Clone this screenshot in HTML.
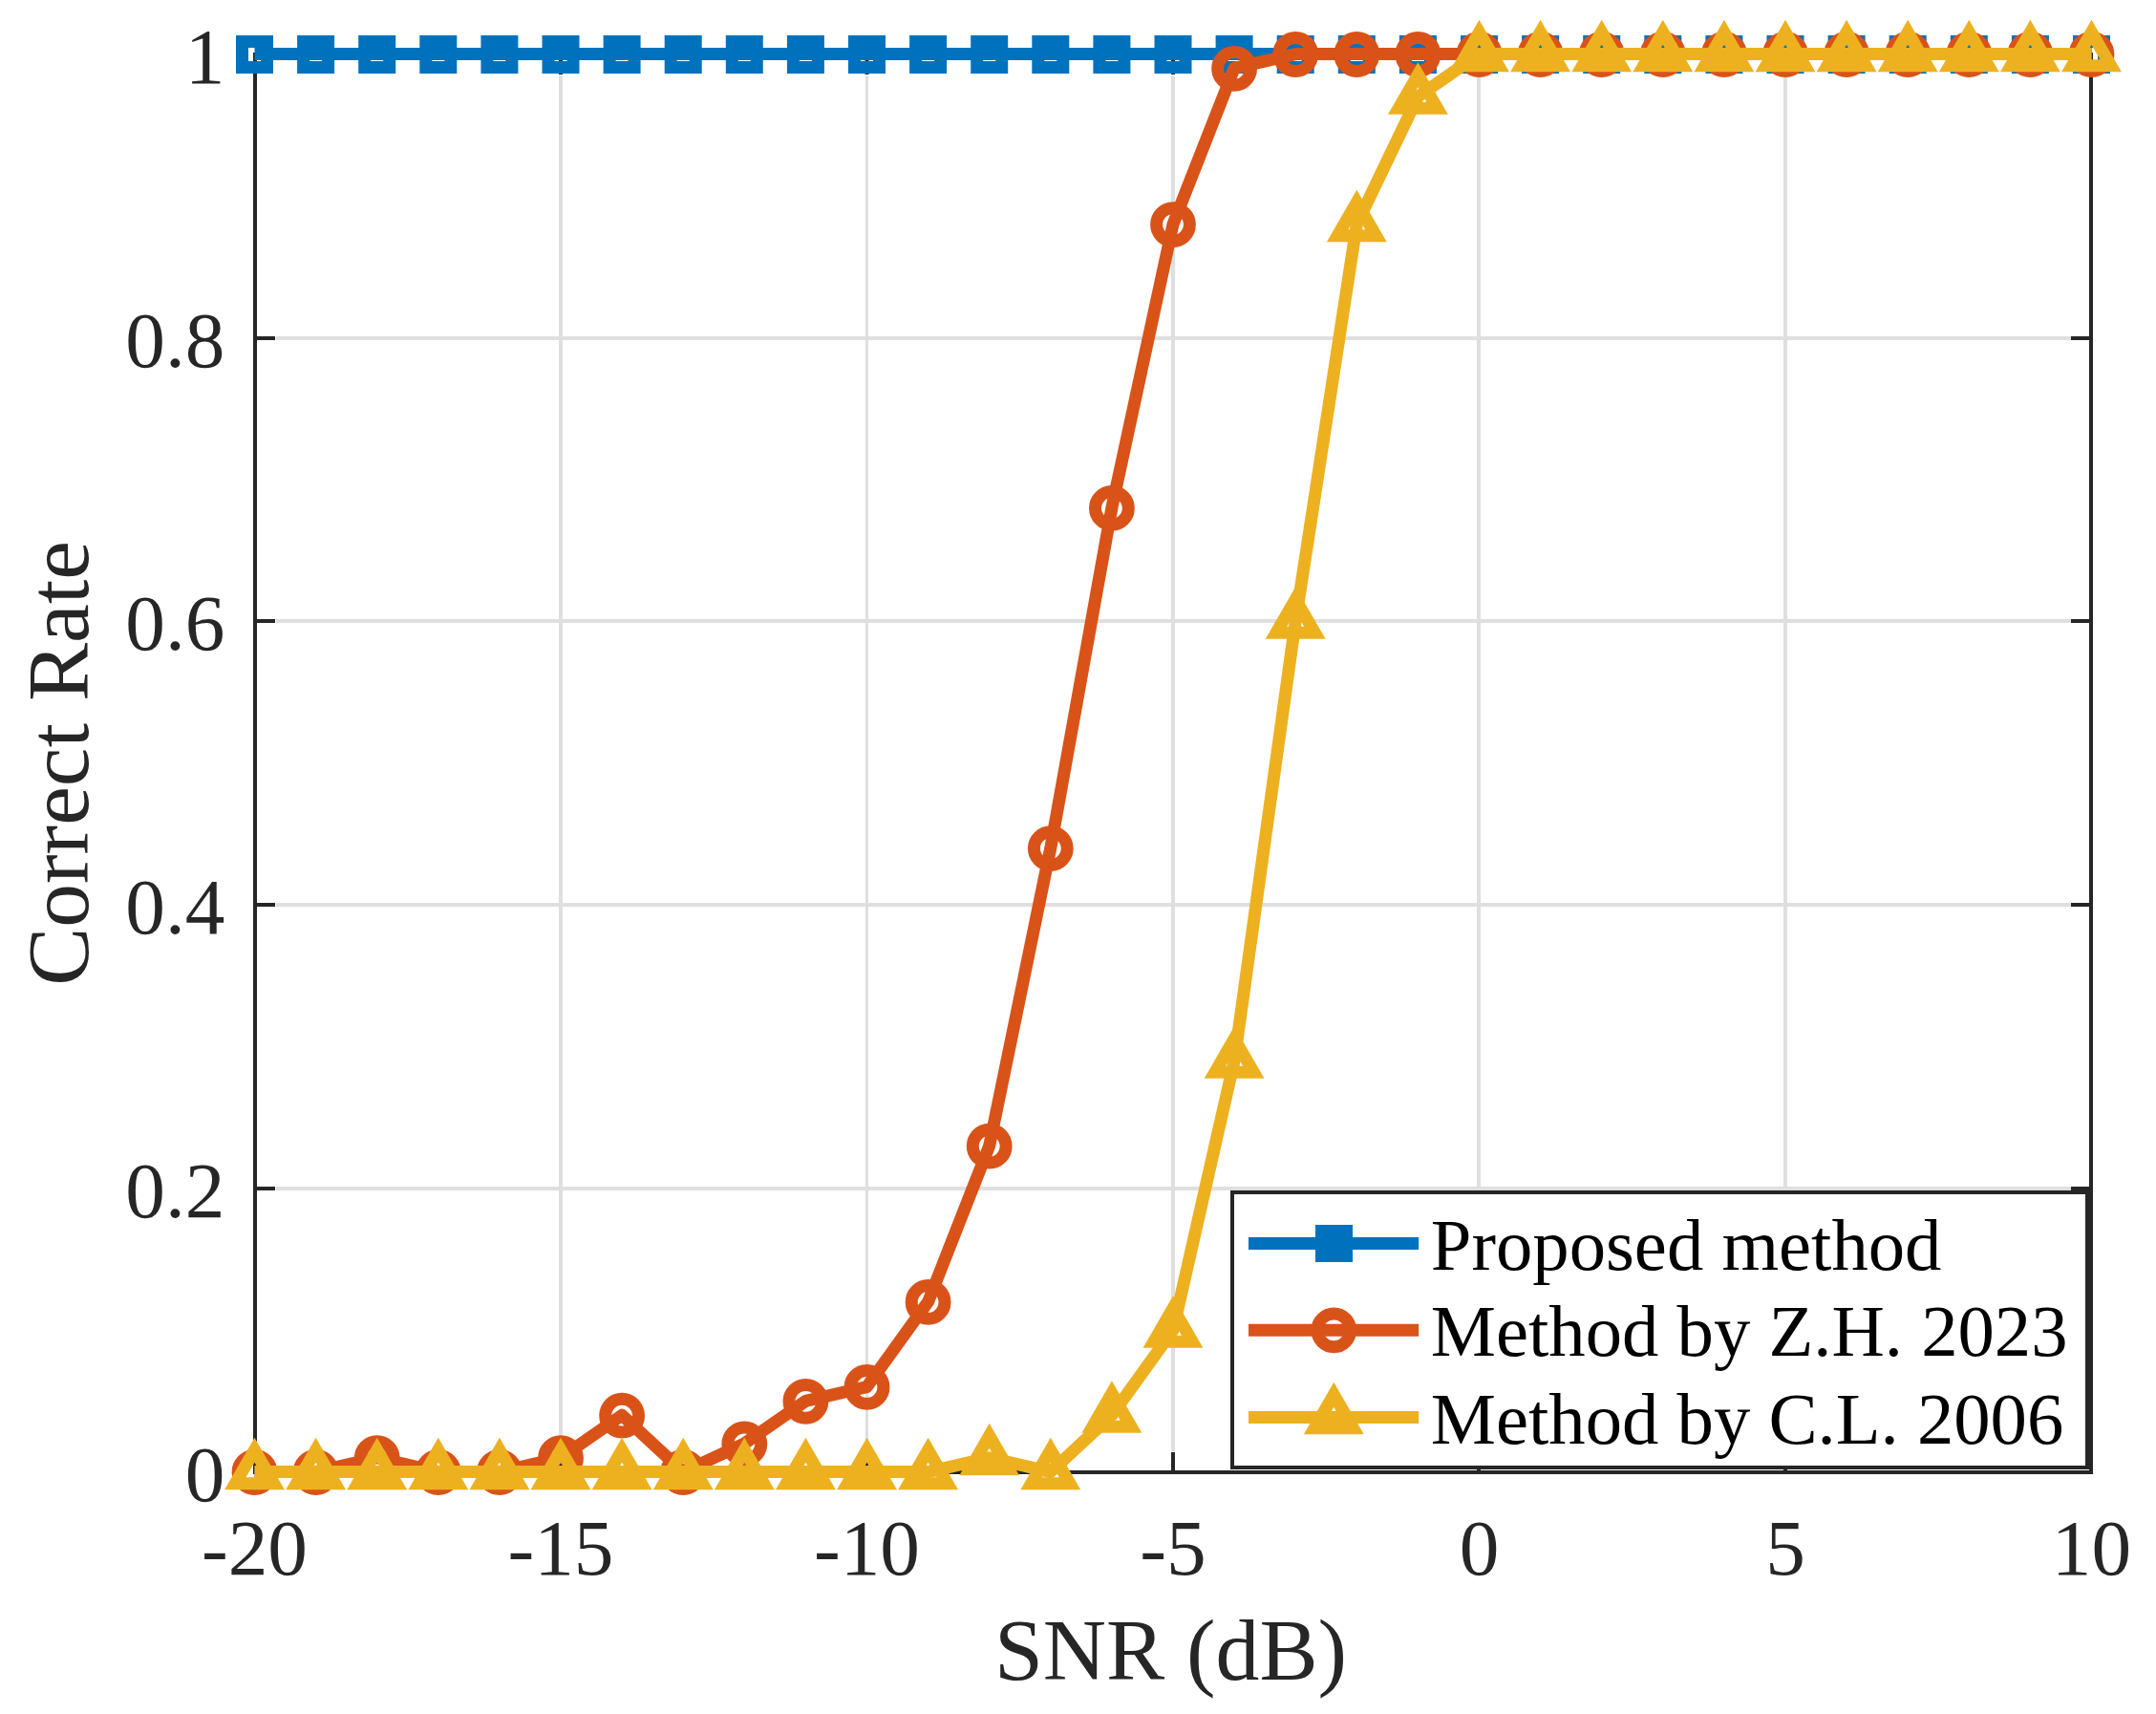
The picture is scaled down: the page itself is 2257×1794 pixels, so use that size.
<!DOCTYPE html>
<html lang="en"><head><meta charset="utf-8"><title>Correct Rate vs SNR</title>
<style>
html,body{margin:0;padding:0;background:#fff;width:2257px;height:1794px;overflow:hidden}
svg text{font-family:"Liberation Serif",serif;}
</style></head><body>
<svg width="2257" height="1794" viewBox="0 0 2257 1794" style="display:block;position:absolute;left:0;top:0">
<rect x="0" y="0" width="2257" height="1794" fill="#fff"/>
<path d="M587 79V1519" stroke="#dfdfdf" stroke-width="4" fill="none"/>
<path d="M907.5 79V1519" stroke="#dfdfdf" stroke-width="3" fill="none"/>
<path d="M1228 79V1519" stroke="#dfdfdf" stroke-width="4" fill="none"/>
<path d="M1548 79V1519" stroke="#dfdfdf" stroke-width="4" fill="none"/>
<path d="M1869 79V1519" stroke="#dfdfdf" stroke-width="4" fill="none"/>
<path d="M289 354H2168M289 650H2168M289 947H2168M289 1244H2168" stroke="#dfdfdf" stroke-width="4" fill="none"/>
<rect x="267.0" y="57.0" width="1922.0" height="1484.0" fill="none" stroke="#262626" stroke-width="4"/>
<path d="M267 1541v-21.0M267 57v21.0M587 1541v-21.0M587 57v21.0M907.5 1541v-21.0M907.5 57v21.0M1228 1541v-21.0M1228 57v21.0M1548 1541v-21.0M1548 57v21.0M1869 1541v-21.0M1869 57v21.0M2189 1541v-21.0M2189 57v21.0M267 1541h21.0M2189 1541h-21.0M267 1244h21.0M2189 1244h-21.0M267 947h21.0M2189 947h-21.0M267 650h21.0M2189 650h-21.0M267 354h21.0M2189 354h-21.0M267 57h21.0M2189 57h-21.0" stroke="#262626" stroke-width="4" fill="none"/>
<polyline points="266.50,56.60 330.60,56.60 394.70,56.60 458.80,56.60 522.90,56.60 587.00,56.60 651.10,56.60 715.20,56.60 779.30,56.60 843.40,56.60 907.50,56.60 971.60,56.60 1035.70,56.60 1099.80,56.60 1163.90,56.60 1228.00,56.60 1292.10,56.60 1356.20,56.60 1420.30,56.60 1484.40,56.60 1548.50,56.60 1612.60,56.60 1676.70,56.60 1740.80,56.60 1804.90,56.60 1869.00,56.60 1933.10,56.60 1997.20,56.60 2061.30,56.60 2125.40,56.60 2189.50,56.60" fill="none" stroke="#0072BD" stroke-width="13.0" stroke-linejoin="round"/>
<g><rect x="253.50" y="43.50" width="26.0" height="27.0" fill="none" stroke="#0072BD" stroke-width="13.0"/><rect x="317.60" y="43.50" width="26.0" height="27.0" fill="none" stroke="#0072BD" stroke-width="13.0"/><rect x="381.70" y="43.50" width="26.0" height="27.0" fill="none" stroke="#0072BD" stroke-width="13.0"/><rect x="445.80" y="43.50" width="26.0" height="27.0" fill="none" stroke="#0072BD" stroke-width="13.0"/><rect x="509.90" y="43.50" width="26.0" height="27.0" fill="none" stroke="#0072BD" stroke-width="13.0"/><rect x="574.00" y="43.50" width="26.0" height="27.0" fill="none" stroke="#0072BD" stroke-width="13.0"/><rect x="638.10" y="43.50" width="26.0" height="27.0" fill="none" stroke="#0072BD" stroke-width="13.0"/><rect x="702.20" y="43.50" width="26.0" height="27.0" fill="none" stroke="#0072BD" stroke-width="13.0"/><rect x="766.30" y="43.50" width="26.0" height="27.0" fill="none" stroke="#0072BD" stroke-width="13.0"/><rect x="830.40" y="43.50" width="26.0" height="27.0" fill="none" stroke="#0072BD" stroke-width="13.0"/><rect x="894.50" y="43.50" width="26.0" height="27.0" fill="none" stroke="#0072BD" stroke-width="13.0"/><rect x="958.60" y="43.50" width="26.0" height="27.0" fill="none" stroke="#0072BD" stroke-width="13.0"/><rect x="1022.70" y="43.50" width="26.0" height="27.0" fill="none" stroke="#0072BD" stroke-width="13.0"/><rect x="1086.80" y="43.50" width="26.0" height="27.0" fill="none" stroke="#0072BD" stroke-width="13.0"/><rect x="1150.90" y="43.50" width="26.0" height="27.0" fill="none" stroke="#0072BD" stroke-width="13.0"/><rect x="1215.00" y="43.50" width="26.0" height="27.0" fill="none" stroke="#0072BD" stroke-width="13.0"/><rect x="1279.10" y="43.50" width="26.0" height="27.0" fill="none" stroke="#0072BD" stroke-width="13.0"/><rect x="1343.20" y="43.50" width="26.0" height="27.0" fill="none" stroke="#0072BD" stroke-width="13.0"/><rect x="1407.30" y="43.50" width="26.0" height="27.0" fill="none" stroke="#0072BD" stroke-width="13.0"/><rect x="1471.40" y="43.50" width="26.0" height="27.0" fill="none" stroke="#0072BD" stroke-width="13.0"/><rect x="1535.50" y="43.50" width="26.0" height="27.0" fill="none" stroke="#0072BD" stroke-width="13.0"/><rect x="1599.60" y="43.50" width="26.0" height="27.0" fill="none" stroke="#0072BD" stroke-width="13.0"/><rect x="1663.70" y="43.50" width="26.0" height="27.0" fill="none" stroke="#0072BD" stroke-width="13.0"/><rect x="1727.80" y="43.50" width="26.0" height="27.0" fill="none" stroke="#0072BD" stroke-width="13.0"/><rect x="1791.90" y="43.50" width="26.0" height="27.0" fill="none" stroke="#0072BD" stroke-width="13.0"/><rect x="1856.00" y="43.50" width="26.0" height="27.0" fill="none" stroke="#0072BD" stroke-width="13.0"/><rect x="1920.10" y="43.50" width="26.0" height="27.0" fill="none" stroke="#0072BD" stroke-width="13.0"/><rect x="1984.20" y="43.50" width="26.0" height="27.0" fill="none" stroke="#0072BD" stroke-width="13.0"/><rect x="2048.30" y="43.50" width="26.0" height="27.0" fill="none" stroke="#0072BD" stroke-width="13.0"/><rect x="2112.40" y="43.50" width="26.0" height="27.0" fill="none" stroke="#0072BD" stroke-width="13.0"/><rect x="2176.50" y="43.50" width="26.0" height="27.0" fill="none" stroke="#0072BD" stroke-width="13.0"/></g>
<polyline points="266.50,1540.60 330.60,1540.60 394.70,1525.76 458.80,1540.60 522.90,1540.60 587.00,1525.76 651.10,1481.24 715.20,1540.60 779.30,1510.92 843.40,1466.40 907.50,1451.56 971.60,1362.52 1035.70,1199.28 1099.80,887.64 1163.90,531.48 1228.00,234.68 1292.10,71.44 1356.20,56.60 1420.30,56.60 1484.40,56.60 1548.50,56.60 1612.60,56.60 1676.70,56.60 1740.80,56.60 1804.90,56.60 1869.00,56.60 1933.10,56.60 1997.20,56.60 2061.30,56.60 2125.40,56.60 2189.50,56.60" fill="none" stroke="#D95319" stroke-width="13.0" stroke-linejoin="round"/>
<g><circle cx="266.50" cy="1541.00" r="17.4" fill="none" stroke="#D95319" stroke-width="13.0"/><circle cx="330.60" cy="1541.00" r="17.4" fill="none" stroke="#D95319" stroke-width="13.0"/><circle cx="394.70" cy="1526.16" r="17.4" fill="none" stroke="#D95319" stroke-width="13.0"/><circle cx="458.80" cy="1541.00" r="17.4" fill="none" stroke="#D95319" stroke-width="13.0"/><circle cx="522.90" cy="1541.00" r="17.4" fill="none" stroke="#D95319" stroke-width="13.0"/><circle cx="587.00" cy="1526.16" r="17.4" fill="none" stroke="#D95319" stroke-width="13.0"/><circle cx="651.10" cy="1481.64" r="17.4" fill="none" stroke="#D95319" stroke-width="13.0"/><circle cx="715.20" cy="1541.00" r="17.4" fill="none" stroke="#D95319" stroke-width="13.0"/><circle cx="779.30" cy="1511.32" r="17.4" fill="none" stroke="#D95319" stroke-width="13.0"/><circle cx="843.40" cy="1466.80" r="17.4" fill="none" stroke="#D95319" stroke-width="13.0"/><circle cx="907.50" cy="1451.96" r="17.4" fill="none" stroke="#D95319" stroke-width="13.0"/><circle cx="971.60" cy="1362.92" r="17.4" fill="none" stroke="#D95319" stroke-width="13.0"/><circle cx="1035.70" cy="1199.68" r="17.4" fill="none" stroke="#D95319" stroke-width="13.0"/><circle cx="1099.80" cy="888.04" r="17.4" fill="none" stroke="#D95319" stroke-width="13.0"/><circle cx="1163.90" cy="531.88" r="17.4" fill="none" stroke="#D95319" stroke-width="13.0"/><circle cx="1228.00" cy="235.08" r="17.4" fill="none" stroke="#D95319" stroke-width="13.0"/><circle cx="1292.10" cy="71.84" r="17.4" fill="none" stroke="#D95319" stroke-width="13.0"/><circle cx="1356.20" cy="57.00" r="17.4" fill="none" stroke="#D95319" stroke-width="13.0"/><circle cx="1420.30" cy="57.00" r="17.4" fill="none" stroke="#D95319" stroke-width="13.0"/><circle cx="1484.40" cy="57.00" r="17.4" fill="none" stroke="#D95319" stroke-width="13.0"/><circle cx="1548.50" cy="57.00" r="17.4" fill="none" stroke="#D95319" stroke-width="13.0"/><circle cx="1612.60" cy="57.00" r="17.4" fill="none" stroke="#D95319" stroke-width="13.0"/><circle cx="1676.70" cy="57.00" r="17.4" fill="none" stroke="#D95319" stroke-width="13.0"/><circle cx="1740.80" cy="57.00" r="17.4" fill="none" stroke="#D95319" stroke-width="13.0"/><circle cx="1804.90" cy="57.00" r="17.4" fill="none" stroke="#D95319" stroke-width="13.0"/><circle cx="1869.00" cy="57.00" r="17.4" fill="none" stroke="#D95319" stroke-width="13.0"/><circle cx="1933.10" cy="57.00" r="17.4" fill="none" stroke="#D95319" stroke-width="13.0"/><circle cx="1997.20" cy="57.00" r="17.4" fill="none" stroke="#D95319" stroke-width="13.0"/><circle cx="2061.30" cy="57.00" r="17.4" fill="none" stroke="#D95319" stroke-width="13.0"/><circle cx="2125.40" cy="57.00" r="17.4" fill="none" stroke="#D95319" stroke-width="13.0"/><circle cx="2189.50" cy="57.00" r="17.4" fill="none" stroke="#D95319" stroke-width="13.0"/></g>
<polyline points="266.50,1540.60 330.60,1540.60 394.70,1540.60 458.80,1540.60 522.90,1540.60 587.00,1540.60 651.10,1540.60 715.20,1540.60 779.30,1540.60 843.40,1540.60 907.50,1540.60 971.60,1540.60 1035.70,1525.76 1099.80,1540.60 1163.90,1481.24 1228.00,1392.20 1292.10,1110.24 1356.20,650.20 1420.30,234.68 1484.40,101.12 1548.50,56.60 1612.60,56.60 1676.70,56.60 1740.80,56.60 1804.90,56.60 1869.00,56.60 1933.10,56.60 1997.20,56.60 2061.30,56.60 2125.40,56.60 2189.50,56.60" fill="none" stroke="#EDB120" stroke-width="13.0" stroke-linejoin="round"/>
<g><path d="M266.50 1517.70L286.68 1552.65L246.32 1552.65Z" fill="none" stroke="#EDB120" stroke-width="13.0" stroke-miterlimit="10"/><path d="M330.60 1517.70L350.78 1552.65L310.42 1552.65Z" fill="none" stroke="#EDB120" stroke-width="13.0" stroke-miterlimit="10"/><path d="M394.70 1517.70L414.88 1552.65L374.52 1552.65Z" fill="none" stroke="#EDB120" stroke-width="13.0" stroke-miterlimit="10"/><path d="M458.80 1517.70L478.98 1552.65L438.62 1552.65Z" fill="none" stroke="#EDB120" stroke-width="13.0" stroke-miterlimit="10"/><path d="M522.90 1517.70L543.08 1552.65L502.72 1552.65Z" fill="none" stroke="#EDB120" stroke-width="13.0" stroke-miterlimit="10"/><path d="M587.00 1517.70L607.18 1552.65L566.82 1552.65Z" fill="none" stroke="#EDB120" stroke-width="13.0" stroke-miterlimit="10"/><path d="M651.10 1517.70L671.28 1552.65L630.92 1552.65Z" fill="none" stroke="#EDB120" stroke-width="13.0" stroke-miterlimit="10"/><path d="M715.20 1517.70L735.38 1552.65L695.02 1552.65Z" fill="none" stroke="#EDB120" stroke-width="13.0" stroke-miterlimit="10"/><path d="M779.30 1517.70L799.48 1552.65L759.12 1552.65Z" fill="none" stroke="#EDB120" stroke-width="13.0" stroke-miterlimit="10"/><path d="M843.40 1517.70L863.58 1552.65L823.22 1552.65Z" fill="none" stroke="#EDB120" stroke-width="13.0" stroke-miterlimit="10"/><path d="M907.50 1517.70L927.68 1552.65L887.32 1552.65Z" fill="none" stroke="#EDB120" stroke-width="13.0" stroke-miterlimit="10"/><path d="M971.60 1517.70L991.78 1552.65L951.42 1552.65Z" fill="none" stroke="#EDB120" stroke-width="13.0" stroke-miterlimit="10"/><path d="M1035.70 1502.86L1055.88 1537.81L1015.52 1537.81Z" fill="none" stroke="#EDB120" stroke-width="13.0" stroke-miterlimit="10"/><path d="M1099.80 1517.70L1119.98 1552.65L1079.62 1552.65Z" fill="none" stroke="#EDB120" stroke-width="13.0" stroke-miterlimit="10"/><path d="M1163.90 1458.34L1184.08 1493.29L1143.72 1493.29Z" fill="none" stroke="#EDB120" stroke-width="13.0" stroke-miterlimit="10"/><path d="M1228.00 1369.30L1248.18 1404.25L1207.82 1404.25Z" fill="none" stroke="#EDB120" stroke-width="13.0" stroke-miterlimit="10"/><path d="M1292.10 1087.34L1312.28 1122.29L1271.92 1122.29Z" fill="none" stroke="#EDB120" stroke-width="13.0" stroke-miterlimit="10"/><path d="M1356.20 627.30L1376.38 662.25L1336.02 662.25Z" fill="none" stroke="#EDB120" stroke-width="13.0" stroke-miterlimit="10"/><path d="M1420.30 211.78L1440.48 246.73L1400.12 246.73Z" fill="none" stroke="#EDB120" stroke-width="13.0" stroke-miterlimit="10"/><path d="M1484.40 78.22L1504.58 113.17L1464.22 113.17Z" fill="none" stroke="#EDB120" stroke-width="13.0" stroke-miterlimit="10"/><path d="M1548.50 33.70L1568.68 68.65L1528.32 68.65Z" fill="none" stroke="#EDB120" stroke-width="13.0" stroke-miterlimit="10"/><path d="M1612.60 33.70L1632.78 68.65L1592.42 68.65Z" fill="none" stroke="#EDB120" stroke-width="13.0" stroke-miterlimit="10"/><path d="M1676.70 33.70L1696.88 68.65L1656.52 68.65Z" fill="none" stroke="#EDB120" stroke-width="13.0" stroke-miterlimit="10"/><path d="M1740.80 33.70L1760.98 68.65L1720.62 68.65Z" fill="none" stroke="#EDB120" stroke-width="13.0" stroke-miterlimit="10"/><path d="M1804.90 33.70L1825.08 68.65L1784.72 68.65Z" fill="none" stroke="#EDB120" stroke-width="13.0" stroke-miterlimit="10"/><path d="M1869.00 33.70L1889.18 68.65L1848.82 68.65Z" fill="none" stroke="#EDB120" stroke-width="13.0" stroke-miterlimit="10"/><path d="M1933.10 33.70L1953.28 68.65L1912.92 68.65Z" fill="none" stroke="#EDB120" stroke-width="13.0" stroke-miterlimit="10"/><path d="M1997.20 33.70L2017.38 68.65L1977.02 68.65Z" fill="none" stroke="#EDB120" stroke-width="13.0" stroke-miterlimit="10"/><path d="M2061.30 33.70L2081.48 68.65L2041.12 68.65Z" fill="none" stroke="#EDB120" stroke-width="13.0" stroke-miterlimit="10"/><path d="M2125.40 33.70L2145.58 68.65L2105.22 68.65Z" fill="none" stroke="#EDB120" stroke-width="13.0" stroke-miterlimit="10"/><path d="M2189.50 33.70L2209.68 68.65L2169.32 68.65Z" fill="none" stroke="#EDB120" stroke-width="13.0" stroke-miterlimit="10"/></g>
<rect x="1290" y="1248" width="895" height="288" fill="#fff" stroke="#262626" stroke-width="4"/>
<path d="M1307 1301.5H1485.2" stroke="#0072BD" stroke-width="13.0" fill="none"/>
<rect x="1377" y="1282.0" width="39" height="39" fill="#0072BD"/>
<text x="1497.8" y="1328.5" font-size="76.7" fill="#000">Proposed method</text>
<path d="M1307 1392.3H1485.2" stroke="#D95319" stroke-width="13.0" fill="none"/>
<circle cx="1396.30" cy="1392.30" r="17.4" fill="none" stroke="#D95319" stroke-width="13.0"/>
<text x="1497.8" y="1419.3" font-size="76.7" fill="#000">Method by Z.H. 2023</text>
<path d="M1307 1483.6H1485.2" stroke="#EDB120" stroke-width="13.0" fill="none"/>
<path d="M1396.30 1459.70L1416.48 1494.65L1376.12 1494.65Z" fill="none" stroke="#EDB120" stroke-width="13.0" stroke-miterlimit="10"/>
<text x="1497.8" y="1511.0" font-size="76.7" fill="#000">Method by C.L. 2006</text>
<text x="266.50" y="1648" font-size="83.33" fill="#262626" text-anchor="middle">-20</text>
<text x="587.00" y="1648" font-size="83.33" fill="#262626" text-anchor="middle">-15</text>
<text x="907.50" y="1648" font-size="83.33" fill="#262626" text-anchor="middle">-10</text>
<text x="1228.00" y="1648" font-size="83.33" fill="#262626" text-anchor="middle">-5</text>
<text x="1548.50" y="1648" font-size="83.33" fill="#262626" text-anchor="middle">0</text>
<text x="1869.00" y="1648" font-size="83.33" fill="#262626" text-anchor="middle">5</text>
<text x="2189.50" y="1648" font-size="83.33" fill="#262626" text-anchor="middle">10</text>
<text x="235.5" y="1570.80" font-size="83.33" fill="#262626" text-anchor="end">0</text>
<text x="235.5" y="1274.00" font-size="83.33" fill="#262626" text-anchor="end">0.2</text>
<text x="235.5" y="977.20" font-size="83.33" fill="#262626" text-anchor="end">0.4</text>
<text x="235.5" y="680.40" font-size="83.33" fill="#262626" text-anchor="end">0.6</text>
<text x="235.5" y="383.60" font-size="83.33" fill="#262626" text-anchor="end">0.8</text>
<text x="235.5" y="86.80" font-size="83.33" fill="#262626" text-anchor="end">1</text>
<text x="1225.5" y="1757.5" font-size="91.67" fill="#262626" text-anchor="middle">SNR (dB)</text>
<text transform="translate(92 799) rotate(-90)" font-size="91.67" fill="#262626" text-anchor="middle">Correct Rate</text>
</svg>
</body></html>
